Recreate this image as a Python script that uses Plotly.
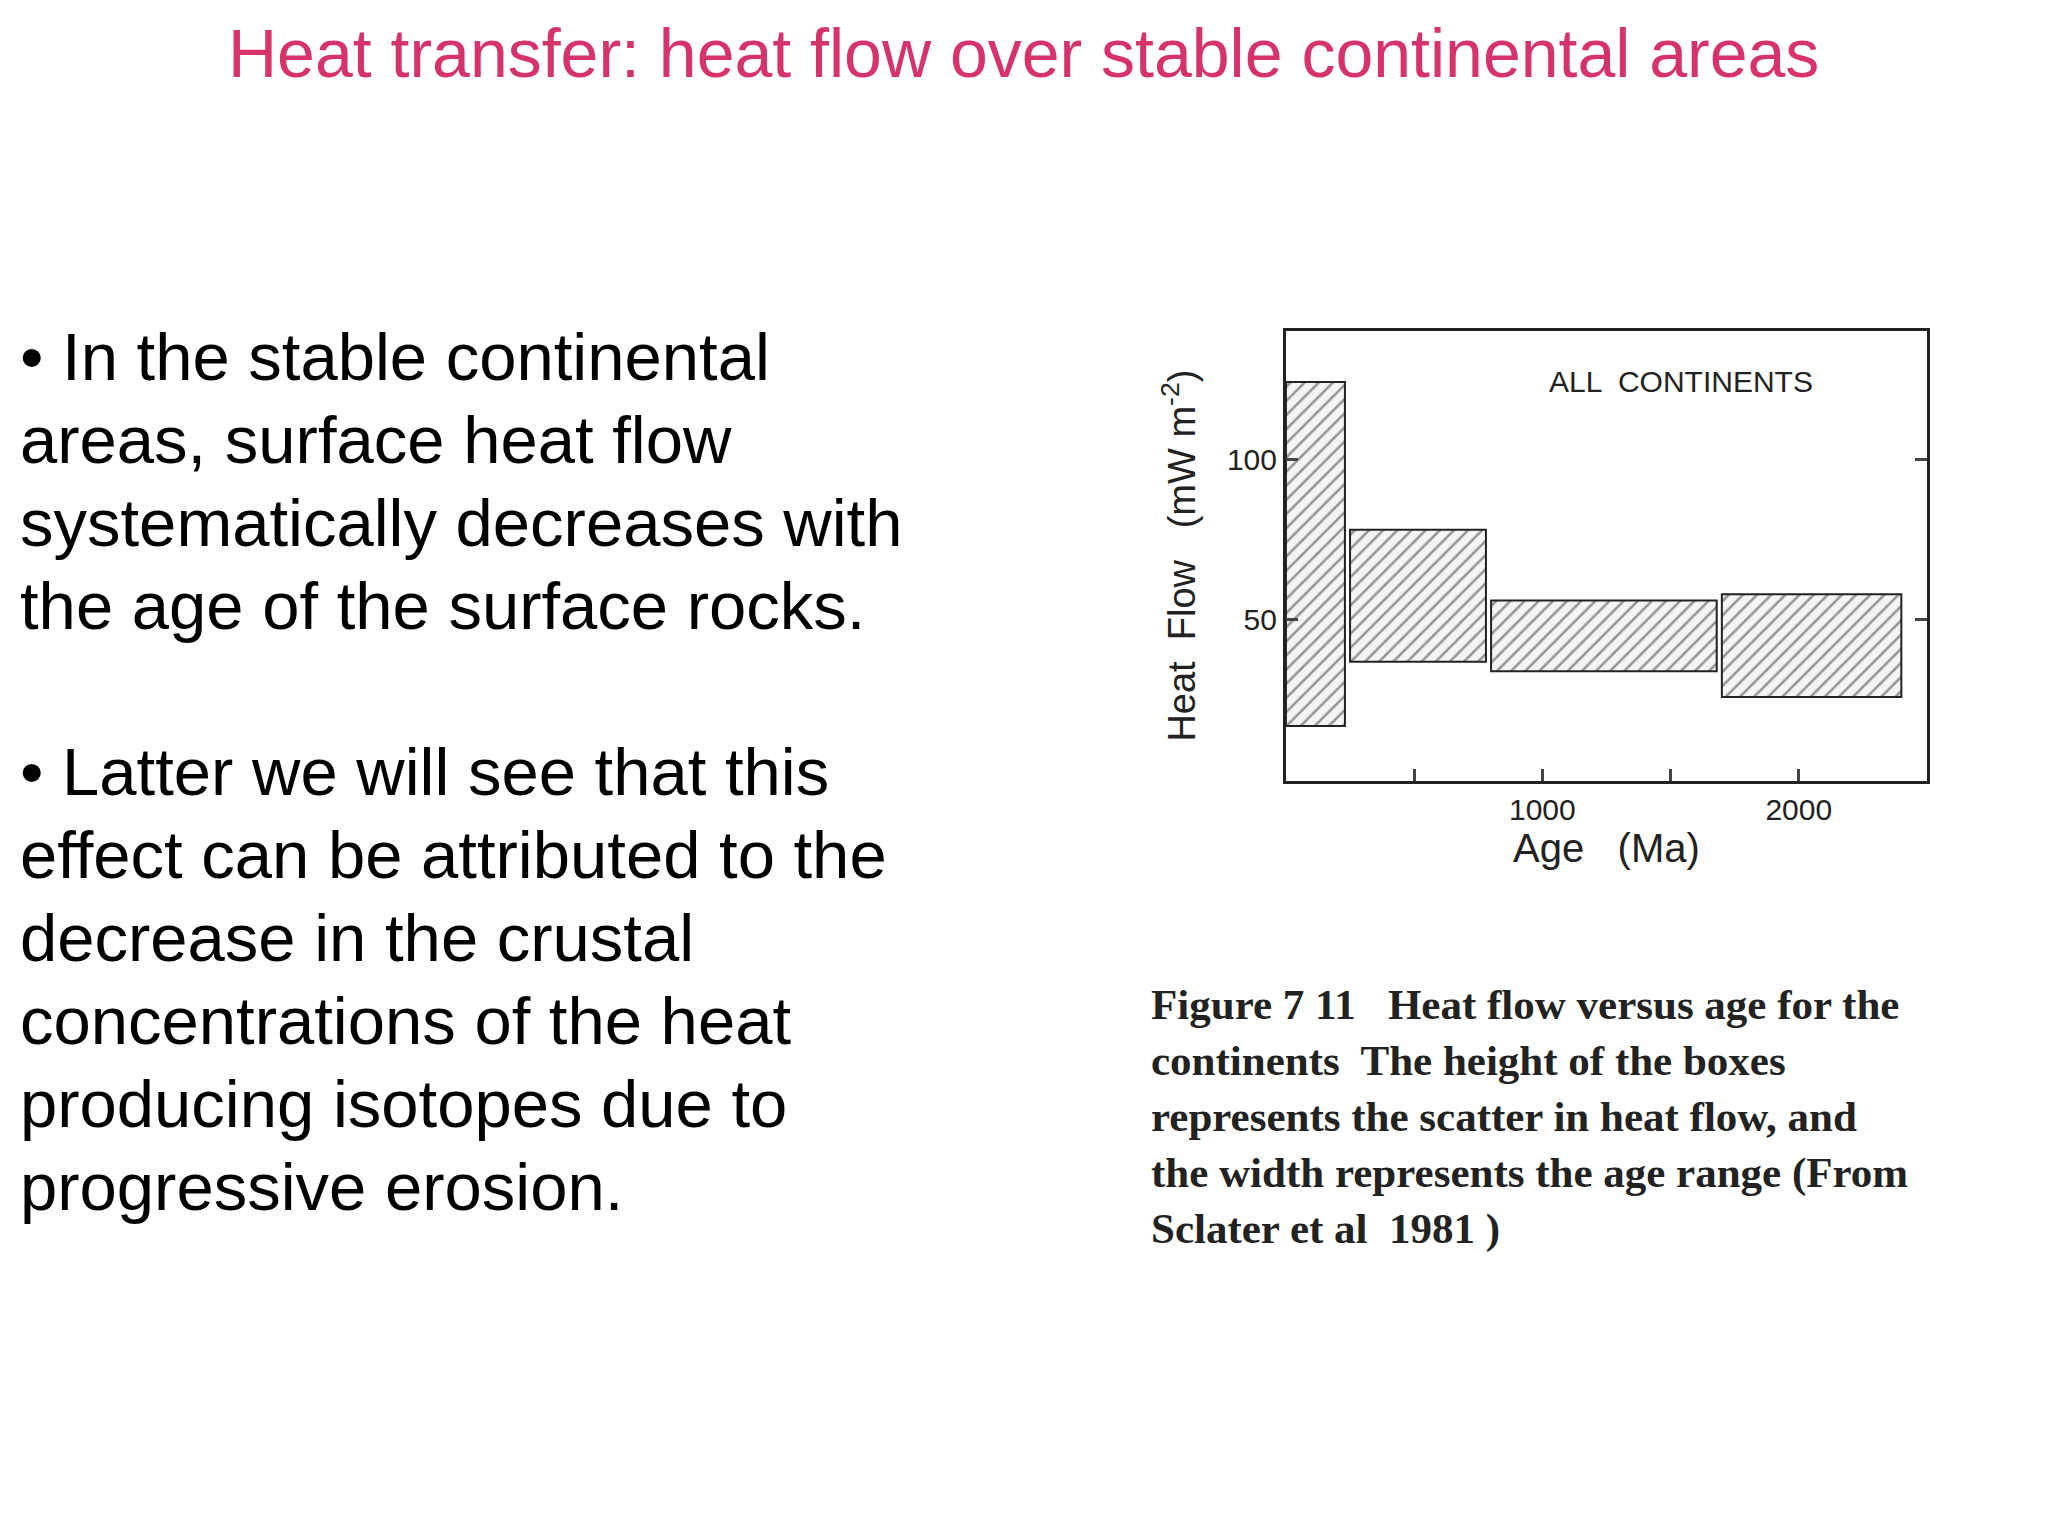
import plotly.graph_objects as go

# age ranges (Ma) and heat flow scatter (mW m-2) per box
age_start = [0, 250, 800, 1700]
age_end = [230, 780, 1680, 2400]
hf_low = [17, 37, 34, 26]
hf_high = [124, 78, 56, 58]

x_ticks = [500, 1000, 1500, 2000]
x_ticklabels = ["", "1000", "", "2000"]
y_ticks = [50, 100]

bullet_lines = [
    "• In the stable continental", "areas, surface heat flow", "systematically decreases with",
    "the age of the surface rocks.", "",
    "• Latter we will see that this", "effect can be attributed to the", "decrease in the crustal",
    "concentrations of the heat", "producing isotopes due to", "progressive erosion.",
]

centers = [(a + b) / 2 for a, b in zip(age_start, age_end)]
widths = [b - a for a, b in zip(age_start, age_end)]
heights = [h - l for h, l in zip(hf_high, hf_low)]

fig = go.Figure()
fig.add_trace(go.Bar(
    x=centers, y=heights, base=hf_low, width=widths,
    marker=dict(color="white", line=dict(color="#222", width=2),
                pattern=dict(shape="/", fgcolor="#333", bgcolor="#f4f4f4", size=10, solidity=0.25)),
    showlegend=False,
))

fig.update_layout(
    width=2048, height=1536,
    paper_bgcolor="white", plot_bgcolor="white",
    margin=dict(l=0, r=0, t=0, b=0),
    font=dict(family="Liberation Sans, Arial", color="black"),
    xaxis=dict(domain=[0.624, 0.937], range=[0, 2500], showgrid=False, zeroline=False,
               showline=True, linecolor="#222", linewidth=3, mirror=True,
               tickvals=x_ticks, ticktext=x_ticklabels, ticks="inside", ticklen=12, tickwidth=3,
               tickfont=dict(size=30, color="#222"),
               title=dict(text="Age   (Ma)", font=dict(size=40, color="#222"), standoff=10)),
    yaxis=dict(domain=[0.497, 0.79], range=[0, 140], showgrid=False, zeroline=False,
               showline=True, linecolor="#222", linewidth=3, mirror="ticks",
               tickvals=y_ticks, ticks="inside", ticklen=12, tickwidth=3,
               tickfont=dict(size=30, color="#222"),
               title=dict(text="Heat  Flow   (mW m<sup>-2</sup>)", font=dict(size=38, color="#222"), standoff=20)),
)

fig.add_annotation(x=1540, y=124, xref="x", yref="y", text="ALL  CONTINENTS",
                   showarrow=False, font=dict(size=30, color="#222"))

fig.add_annotation(x=0.496, y=0.971, xref="paper", yref="paper", text="Heat transfer: heat flow over stable continental areas",
                   showarrow=False, font=dict(size=68, color="#d6336c"), xanchor="center", yanchor="middle")

for i, line in enumerate(bullet_lines):
    if line:
        fig.add_annotation(x=0.005, y=0.773 - i * 0.054, xref="paper", yref="paper", text=line, align="left",
                           showarrow=False, font=dict(size=67, color="black"), xanchor="left", yanchor="middle")

caption = ("<b>Figure 7 11   Heat flow versus age for the<br>continents  The height of the boxes<br>"
           "represents the scatter in heat flow, and<br>the width represents the age range (From<br>Sclater et al  1981 )</b>")
fig.add_annotation(x=0.557, y=0.368, xref="paper", yref="paper", text=caption, align="left",
                   showarrow=False, font=dict(size=43, color="#222", family="Liberation Serif, Times New Roman"),
                   xanchor="left", yanchor="top")

fig.write_html("out.html")
